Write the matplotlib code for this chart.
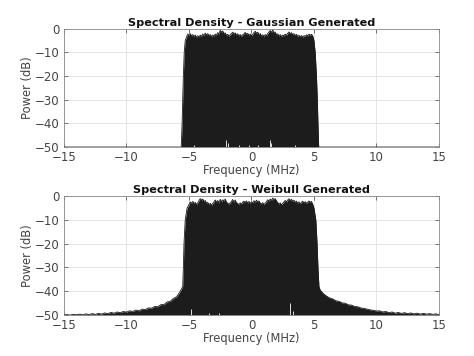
import numpy as np
import matplotlib
matplotlib.use('Agg')
import matplotlib.pyplot as plt

# Gaussian generated spectrum: band top (MHz, dB) plus steep edges
gauss_band_freq = np.round(np.arange(-5.2, 4.95, 0.1), 1)
gauss_band_db = [-3.5, -2.2, -2.8, -2.0, -3.0, -2.4, -3.3, -2.6, -3.6, -2.9,
                 -3.4, -2.7, -3.1, -2.2, -2.9, -1.8, -2.6, -2.0, -2.9, -2.4,
                 -3.3, -2.6, -3.1, -2.2, -2.7, -1.6, -2.2, -0.6, -1.4, -0.9,
                 -2.0, -1.7, -2.8, -2.3, -3.2, -2.5, -2.0, -1.4, -2.2, -1.7,
                 -2.6, -2.1, -3.0, -2.4, -3.2, -2.5, -2.1, -1.5, -2.3, -1.9,
                 -2.7, -2.2, -2.9, -2.3, -1.6, -1.0, -1.9, -1.4, -2.4, -2.0,
                 -3.0, -2.5, -3.2, -2.4, -2.9, -2.0, -1.3, -0.7, -1.5, -0.5,
                 -1.8, -1.3, -2.6, -2.1, -3.1, -2.4, -3.3, -2.6, -3.0, -2.2,
                 -2.8, -1.9, -1.3, -2.1, -1.6, -2.5, -2.0, -2.9, -2.3, -3.3,
                 -2.7, -3.4, -2.8, -3.5, -2.9, -3.2, -2.5, -3.0, -2.2, -2.8,
                 -2.3, -3.0]
gauss_left_freq = [-15.0, -5.62, -5.55, -5.5, -5.45, -5.38, -5.3]
gauss_left_db = [-50, -50, -40, -30, -20, -10, -5]
gauss_right_freq = [5.0, 5.1, 5.2, 5.27, 5.32, 5.38, 15.0]
gauss_right_db = [-5, -10, -20, -30, -40, -50, -50]
gauss_gap_freq = [-4.6, -2.0, -1.9, -1.0, -0.2, 0.5, 1.5, 1.6, 3.5]
gauss_gap_db = [-49, -47, -48.5, -49, -49, -49, -47, -48.5, -49]

# Weibull generated spectrum: band top, edges and skirts
weib_band_freq = np.round(np.arange(-5.0, 4.95, 0.1), 1)
weib_band_db = [-3.6, -2.4, -3.0, -2.2, -3.1, -2.6, -3.5, -2.8, -1.9, -1.0,
                -1.7, -1.2, -2.3, -1.8, -3.0, -2.6, -3.6, -3.0, -3.8, -3.1,
                -2.4, -1.6, -2.5, -1.8, -2.9, -1.3, -2.4, -1.5, -2.0, -1.2,
                -2.6, -2.9, -3.5, -2.7, -2.2, -1.4, -2.5, -1.6, -2.8, -3.0,
                -3.6, -2.8, -3.3, -2.5, -2.1, -2.7, -2.0, -2.9, -2.2, -3.1,
                -2.3, -2.8, -1.9, -2.6, -1.7, -2.4, -2.0, -2.9, -3.3, -2.7,
                -3.5, -2.9, -2.3, -1.5, -2.1, -1.2, -1.8, -0.8, -1.5, -1.0,
                -2.0, -2.7, -3.4, -2.8, -3.6, -3.0, -2.4, -1.8, -2.5, -1.6,
                -1.1, -1.9, -1.3, -2.2, -1.7, -2.6, -2.1, -3.0, -2.4, -3.2,
                -2.6, -2.1, -2.8, -2.3, -3.0, -2.5, -2.0, -2.6, -2.2, -3.4]
weib_left_freq = np.arange(-15.0, -5.7, 0.25)
weib_left_db = [-50.0, -49.8, -50.0, -49.7, -49.9, -49.6, -49.9, -49.5, -49.8, -49.4,
                -49.7, -49.3, -49.6, -49.1, -49.4, -48.9, -49.2, -48.7, -49.0, -48.5,
                -48.8, -48.2, -48.5, -47.9, -48.2, -47.5, -47.7, -47.0, -47.1, -46.4,
                -46.5, -45.6, -45.6, -44.5, -44.2, -43.0, -42.3, -40.5]
weib_left_edge_freq = [-5.5, -5.45, -5.4, -5.3, -5.15]
weib_left_edge_db = [-38, -30, -20, -10, -5]
weib_right_edge_freq = [5.0, 5.15, 5.25, 5.32, 5.4]
weib_right_edge_db = [-5, -10, -20, -30, -38]
weib_right_freq = np.arange(5.5, 15.01, 0.25)
weib_right_db = [-39.5, -41.0, -42.0, -42.8, -43.2, -44.0, -44.2, -44.9, -45.0, -45.7,
                 -45.8, -46.4, -46.5, -47.0, -47.2, -47.5, -47.8, -48.0, -48.3, -48.2,
                 -48.7, -48.5, -49.0, -48.7, -49.2, -48.9, -49.3, -49.0, -49.4, -49.1,
                 -49.5, -49.2, -49.6, -49.3, -49.6, -49.4, -49.7, -49.5, -49.8]
weib_gap_freq = [-4.8, -3.4, -2.6, 3.1, 3.3]
weib_gap_db = [-47.5, -49, -49, -45, -48.5]

ink = '#1c1c1c'

gauss_f = np.concatenate([gauss_left_freq, gauss_band_freq, gauss_right_freq])
gauss_p = np.concatenate([gauss_left_db, gauss_band_db, gauss_right_db])
weib_f = np.concatenate([weib_left_freq, weib_left_edge_freq, weib_band_freq,
                         weib_right_edge_freq, weib_right_freq])
weib_p = np.concatenate([weib_left_db, weib_left_edge_db, weib_band_db,
                         weib_right_edge_db, weib_right_db])

fig = plt.figure(figsize=(4.74, 3.56), dpi=100)
ax1 = fig.add_axes([0.135, 0.587, 0.791, 0.332])
ax2 = fig.add_axes([0.135, 0.115, 0.791, 0.334])

panels = [(ax1, gauss_f, gauss_p, gauss_gap_freq, gauss_gap_db, 'Spectral Density - Gaussian Generated'),
          (ax2, weib_f, weib_p, weib_gap_freq, weib_gap_db, 'Spectral Density - Weibull Generated')]

for ax, f, p, gf, gp, title in panels:
    ax.fill_between(f, -50, p, color=ink, lw=0, zorder=2)
    ax.plot(f, p, color=ink, lw=0.6, zorder=3)
    ax.vlines(gf, -50, gp, color='white', lw=0.6, zorder=4)
    ax.set_xlim(-15, 15)
    ax.set_ylim(-50, 0)
    ax.set_xticks(range(-15, 16, 5))
    ax.set_yticks(range(-50, 1, 10))
    ax.grid(True, color='#e0e0e0', lw=0.6, zorder=0)
    ax.set_axisbelow(True)
    ax.tick_params(direction='in', top=True, right=True, length=3, width=0.5,
                   labelsize=8.5, colors='#444444', pad=3)
    for s in ax.spines.values():
        s.set_color('#8a8a8a')
        s.set_linewidth(0.6)
    ax.set_title(title, fontsize=8.1, fontweight='bold', pad=2, color='#111111')
    ax.set_xlabel('Frequency (MHz)', fontsize=8.3, color='#444444', labelpad=0)
    ax.set_ylabel('Power (dB)', fontsize=8.3, color='#444444', labelpad=1)

fig.savefig('out.png', dpi=100)
